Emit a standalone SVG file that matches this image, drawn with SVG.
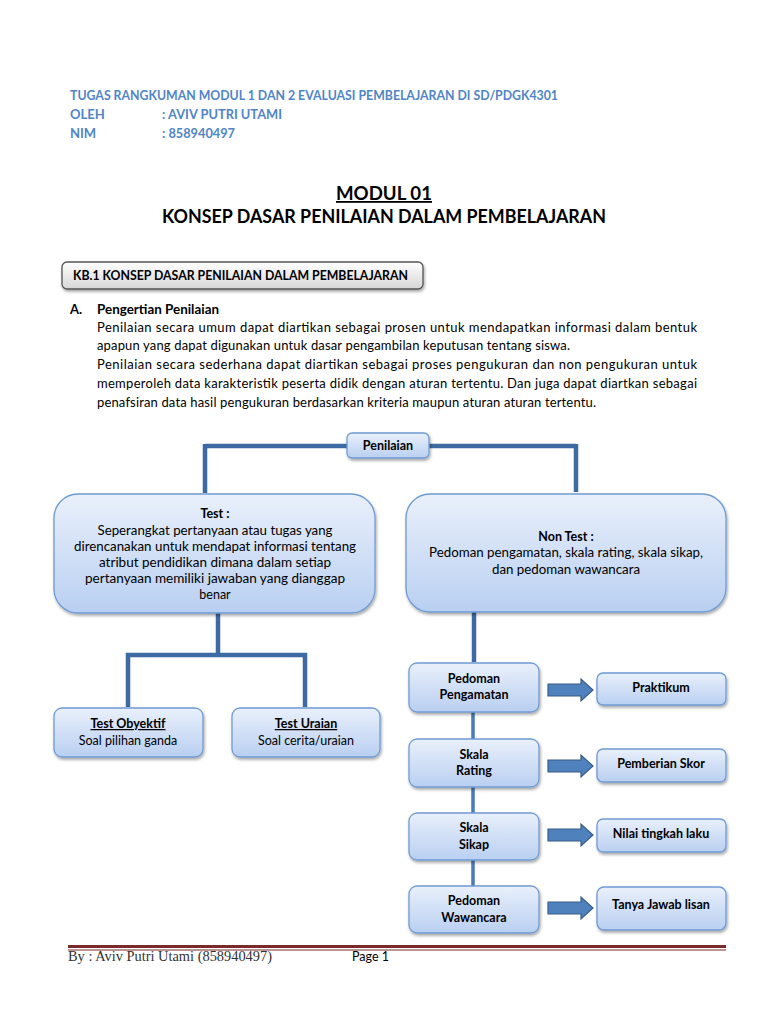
<svg xmlns="http://www.w3.org/2000/svg" width="768" height="1024" viewBox="0 0 768 1024">
<defs>
<linearGradient id="gBox" x1="0" y1="0" x2="0" y2="1">
<stop offset="0" stop-color="#e9f0fb"/>
<stop offset="1" stop-color="#b9cff1"/>
</linearGradient>
<linearGradient id="gKb" x1="0" y1="0" x2="0" y2="1">
<stop offset="0" stop-color="#ffffff"/>
<stop offset="1" stop-color="#d6d6d6"/>
</linearGradient>
<filter id="sh" x="-10%" y="-20%" width="125%" height="150%">
<feDropShadow dx="1" dy="2" stdDeviation="1.5" flood-color="#000" flood-opacity="0.35"/>
</filter>
<path id="blockArrow" d="M0,-6 L33,-6 L33,-11 L45,0 L33,11 L33,6 L0,6 Z"/>
</defs>
<style>
text{font-family:Lato,"Open Sans","Noto Sans",sans-serif;fill:#000}
.hdr{font-size:13px;font-weight:bold;fill:#4f85c7}
.ttl{font-size:18px;font-weight:bold;text-anchor:middle}
.body{font-size:13px}
.bt{font-size:12.5px;text-anchor:middle}
.b{font-weight:bold}
.box{fill:url(#gBox);stroke:#6f9bd3;stroke-width:1.3;filter:url(#sh)}
.conn{fill:none;stroke:#3d6aa2;stroke-width:4.5;stroke-linecap:butt}
.conn2{fill:none;stroke:#4a7bbb;stroke-width:3.5}
.arr{fill:#4f81bd;stroke:#385d8a;stroke-width:1.2}
.foot{font-family:"Liberation Serif","Times New Roman",serif;font-size:14px;fill:#333}
</style>

<g id="header">
<text class="hdr" x="70" y="100" textLength="488" lengthAdjust="spacingAndGlyphs">TUGAS RANGKUMAN MODUL 1 DAN 2 EVALUASI PEMBELAJARAN DI SD/PDGK4301</text>
<text class="hdr" x="70" y="119">OLEH</text>
<text class="hdr" x="162" y="119" textLength="120" lengthAdjust="spacingAndGlyphs">: AVIV PUTRI UTAMI</text>
<text class="hdr" x="70" y="138">NIM</text>
<text class="hdr" x="162" y="138" textLength="73" lengthAdjust="spacingAndGlyphs">: 858940497</text>
</g>

<g id="title">
<text class="ttl" x="384" y="200" text-decoration="underline" textLength="96" lengthAdjust="spacingAndGlyphs">MODUL 01</text>
<text class="ttl" x="384" y="223" textLength="444" lengthAdjust="spacingAndGlyphs">KONSEP DASAR PENILAIAN DALAM PEMBELAJARAN</text>
</g>

<g id="kb1">
<rect x="62" y="262" width="361" height="27" rx="5" fill="url(#gKb)" stroke="#555" stroke-width="1.3" filter="url(#sh)"/>
<text x="73" y="280" font-size="12.5" font-weight="bold" textLength="335" lengthAdjust="spacingAndGlyphs">KB.1 KONSEP DASAR PENILAIAN DALAM PEMBELAJARAN</text>
</g>

<g id="section-a">
<text class="body b" x="70" y="314">A.</text>
<text class="body b" x="97" y="314" textLength="122" lengthAdjust="spacingAndGlyphs">Pengertian Penilaian</text>
<text class="body" x="97" y="332" textLength="600" lengthAdjust="spacing">Penilaian secara umum dapat diartikan sebagai prosen untuk mendapatkan informasi dalam bentuk</text>
<text class="body" x="97" y="350" textLength="473" lengthAdjust="spacing">apapun yang dapat digunakan untuk dasar pengambilan keputusan tentang siswa.</text>
<text class="body" x="97" y="369" textLength="600" lengthAdjust="spacing">Penilaian secara sederhana dapat diartikan sebagai proses pengukuran dan non pengukuran untuk</text>
<text class="body" x="97" y="388" textLength="600" lengthAdjust="spacing">memperoleh data karakteristik peserta didik dengan aturan tertentu. Dan juga dapat diartkan sebagai</text>
<text class="body" x="97" y="407" textLength="499" lengthAdjust="spacing">penafsiran data hasil pengukuran berdasarkan kriteria maupun aturan aturan tertentu.</text>
</g>

<g id="connectors">
<path class="conn" d="M205,446 H576 M205,444 V493 M576,444 V492"/>
<path class="conn" d="M218,613 V655 M126,655 H307 M128,653 V707 M305,653 V707"/>
<path class="conn" d="M474,612 V662"/>
<path class="conn2" d="M473,712 V739 M473,787 V813 M473,860 V886"/>
<use href="#blockArrow" class="arr" x="548" y="690"/>
<use href="#blockArrow" class="arr" x="548" y="766"/>
<use href="#blockArrow" class="arr" x="548" y="835"/>
<use href="#blockArrow" class="arr" x="548" y="908"/>
</g>

<g id="node-penilaian">
<rect class="box" x="347" y="433" width="82" height="25" rx="5"/>
<text class="bt b" x="388" y="450">Penilaian</text>
</g>

<g id="node-test">
<rect class="box" x="54" y="494" width="321" height="119" rx="24"/>
<text class="bt b" x="215" y="518">Test :</text>
<text class="bt" x="215" y="535" textLength="235" lengthAdjust="spacingAndGlyphs">Seperangkat pertanyaan atau tugas yang</text>
<text class="bt" x="215" y="551" textLength="282" lengthAdjust="spacingAndGlyphs">direncanakan untuk mendapat informasi tentang</text>
<text class="bt" x="215" y="567" textLength="232" lengthAdjust="spacingAndGlyphs">atribut pendidikan dimana dalam setiap</text>
<text class="bt" x="215" y="583" textLength="260" lengthAdjust="spacingAndGlyphs">pertanyaan memiliki jawaban yang dianggap</text>
<text class="bt" x="215" y="599">benar</text>
</g>

<g id="node-nontest">
<rect class="box" x="406" y="494" width="320" height="118" rx="24"/>
<text class="bt b" x="566" y="541">Non Test :</text>
<text class="bt" x="566" y="557" textLength="274" lengthAdjust="spacingAndGlyphs">Pedoman pengamatan, skala rating, skala sikap,</text>
<text class="bt" x="566" y="574" textLength="148" lengthAdjust="spacingAndGlyphs">dan pedoman wawancara</text>
</g>

<g id="node-obyektif">
<rect class="box" x="54" y="708" width="149" height="49" rx="8"/>
<text class="bt b" x="128" y="728" text-decoration="underline">Test Obyektif </text>
<text class="bt" x="128" y="745">Soal pilihan ganda</text>
</g>

<g id="node-uraian">
<rect class="box" x="232" y="708" width="148" height="49" rx="8"/>
<text class="bt b" x="306" y="728" text-decoration="underline">Test Uraian </text>
<text class="bt" x="306" y="745">Soal cerita/uraian</text>
</g>

<g id="node-pengamatan">
<rect class="box" x="409" y="663" width="130" height="49" rx="8"/>
<text class="bt b" x="474" y="683">Pedoman</text>
<text class="bt b" x="474" y="699">Pengamatan</text>
</g>

<g id="node-rating">
<rect class="box" x="409" y="739" width="130" height="48" rx="8"/>
<text class="bt b" x="474" y="759">Skala</text>
<text class="bt b" x="474" y="775">Rating</text>
</g>

<g id="node-sikap">
<rect class="box" x="409" y="813" width="130" height="47" rx="8"/>
<text class="bt b" x="474" y="832">Skala</text>
<text class="bt b" x="474" y="849">Sikap</text>
</g>

<g id="node-wawancara">
<rect class="box" x="409" y="886" width="130" height="47" rx="8"/>
<text class="bt b" x="474" y="905">Pedoman</text>
<text class="bt b" x="474" y="922">Wawancara</text>
</g>

<g id="node-praktikum">
<rect class="box" x="597" y="673" width="129" height="32" rx="6"/>
<text class="bt b" x="661" y="692">Praktikum</text>
</g>

<g id="node-skor">
<rect class="box" x="597" y="749" width="129" height="33" rx="6"/>
<text class="bt b" x="661" y="768">Pemberian Skor</text>
</g>

<g id="node-tingkah">
<rect class="box" x="597" y="819" width="129" height="33" rx="6"/>
<text class="bt b" x="661" y="838">Nilai tingkah laku</text>
</g>

<g id="node-tanya">
<rect class="box" x="597" y="887" width="129" height="43" rx="7"/>
<text class="bt b" x="661" y="909">Tanya Jawab lisan</text>
</g>

<g id="footer">
<rect x="68" y="945" width="658" height="3" fill="#7a2a2a"/>
<rect x="68" y="949.5" width="658" height="1" fill="#7a2a2a"/>
<text class="foot" x="68" y="961" textLength="204" lengthAdjust="spacingAndGlyphs">By : Aviv Putri Utami (858940497)</text>
<text x="352" y="961" font-size="12.5">Page 1</text>
</g>
</svg>
